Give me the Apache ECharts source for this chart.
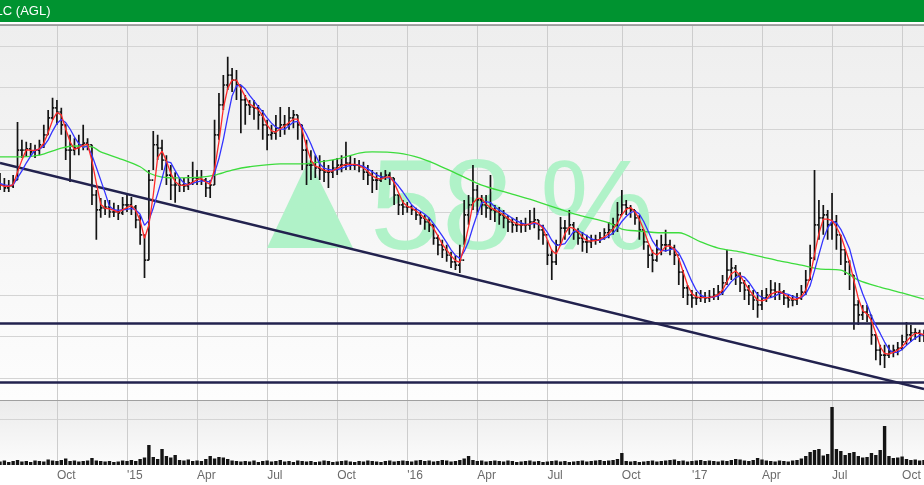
<!DOCTYPE html>
<html><head><meta charset="utf-8">
<script src="https://cdn.jsdelivr.net/npm/echarts/dist/echarts.min.js"></script>
<style>html,body{margin:0;padding:0;background:#fff}#c{width:924px;height:485px}</style>
</head><body><div id="c"></div>
<script>
// first 5 points are warm-up points for the moving averages (left of the visible window)
const PRE = 5;
const tickIndex = [13, 29, 45, 61, 77, 93, 109, 125, 142, 158, 174, 190, 206];
const tickLabels = ['Oct', "'15", 'Apr', 'Jul', 'Oct', "'16", 'Apr', 'Jul', 'Oct', "'17", 'Apr', 'Jul', 'Oct'];

const highVals = [
  79.6, 79.2, 78.7, 78.2, 77.7,
  79.4, 78.2, 77.7, 78.9, 91.7, 87.4, 86.9, 86.6, 86.2, 87.4,
  91.0, 94.6, 97.5, 97.0, 95.1, 91.0, 88.6, 87.8, 88.6, 91.0,
  87.8, 86.2, 75.3, 73.4, 72.9, 72.9, 72.2, 71.7, 73.6, 74.1,
  73.6, 71.7, 69.3, 64.5, 80.1, 89.5, 88.6, 87.4, 83.7, 81.3,
  79.6, 78.2, 78.2, 78.9, 82.1, 80.1, 80.1, 78.2, 77.7, 92.2,
  98.7, 103.0, 107.4, 104.7, 104.2, 100.6, 98.2, 97.0, 97.0, 95.8,
  94.6, 92.2, 91.0, 93.4, 95.3, 93.4, 95.3, 94.6, 93.4, 91.0,
  87.4, 84.9, 83.7, 83.7, 82.5, 81.3, 82.5, 83.0, 83.7, 86.9,
  83.7, 83.0, 82.5, 82.1, 81.3, 80.1, 79.6, 79.6, 80.1, 79.6,
  78.2, 74.1, 72.9, 72.4, 71.7, 71.0, 70.0, 69.3, 68.6, 66.9,
  64.5, 63.3, 62.1, 60.4, 59.6, 62.1, 72.9, 74.1, 81.3, 76.5,
  74.1, 74.1, 78.9, 71.7, 71.2, 70.5, 69.3, 68.6, 68.8, 68.1,
  68.6, 70.5, 71.0, 68.1, 66.9, 63.3, 60.9, 63.3, 68.8, 68.1,
  70.5, 67.6, 66.1, 65.2, 64.5, 64.5, 64.5, 65.2, 66.1, 67.6,
  68.6, 72.4, 75.3, 72.9, 71.7, 70.5, 69.3, 65.7, 62.1, 60.9,
  63.3, 64.5, 65.7, 63.3, 62.1, 58.9, 56.0, 52.4, 51.2, 50.7,
  51.2, 50.7, 51.2, 51.7, 52.4, 54.8, 60.9, 58.9, 57.2, 55.5,
  53.6, 52.4, 51.2, 50.7, 51.2, 51.7, 53.6, 53.1, 52.9, 51.2,
  50.0, 50.0, 50.5, 52.4, 56.0, 62.1, 80.1, 72.9, 71.7, 70.5,
  74.6, 69.3, 64.5, 60.9, 58.4, 54.8, 48.8, 47.6, 47.6, 45.2,
  40.4, 38.0, 38.0, 38.0, 38.0, 38.7, 40.4, 43.5, 42.8, 42.0,
  41.6, 41.6
];
const lowVals = [
  76.8, 76.3, 75.8, 75.3, 74.8,
  75.3, 74.8, 74.8, 75.8, 77.7, 83.0, 83.3, 83.3, 83.0, 83.7,
  85.4, 88.6, 92.2, 91.0, 88.6, 82.5, 77.2, 83.7, 83.7, 84.9,
  84.9, 71.7, 63.3, 68.6, 69.3, 68.6, 68.8, 68.1, 69.3, 70.0,
  69.3, 66.1, 62.1, 54.1, 58.4, 80.1, 82.5, 80.1, 76.5, 72.9,
  72.2, 74.8, 74.8, 75.3, 76.5, 76.5, 76.5, 73.6, 73.4, 76.5,
  87.4, 94.6, 99.4, 98.9, 97.0, 89.0, 91.0, 93.4, 92.2, 89.8,
  87.4, 84.9, 87.4, 87.4, 88.1, 88.6, 89.8, 90.2, 87.4, 80.1,
  76.5, 77.7, 78.2, 77.7, 77.2, 75.8, 78.2, 78.9, 79.6, 80.1,
  80.1, 80.1, 79.6, 77.7, 76.5, 74.6, 75.3, 77.2, 77.7, 76.5,
  71.7, 69.3, 69.3, 69.8, 69.3, 68.1, 66.9, 65.7, 65.2, 62.1,
  59.6, 58.9, 58.0, 56.5, 56.0, 55.3, 62.1, 66.9, 70.5, 69.3,
  69.3, 68.6, 68.1, 67.6, 66.9, 66.1, 65.2, 65.0, 65.2, 65.0,
  65.2, 65.7, 66.1, 63.3, 62.1, 57.2, 53.6, 57.2, 62.1, 63.3,
  64.5, 63.3, 62.1, 60.4, 60.1, 61.3, 62.1, 62.5, 63.3, 63.7,
  64.5, 65.2, 69.3, 69.3, 68.6, 66.9, 63.3, 60.9, 56.5, 55.5,
  58.0, 59.6, 60.4, 59.6, 57.2, 52.4, 49.3, 47.6, 46.9, 47.6,
  48.3, 48.1, 48.3, 48.8, 48.8, 50.0, 52.4, 53.6, 52.4, 50.7,
  48.8, 47.6, 46.4, 44.5, 46.4, 48.3, 49.3, 48.8, 48.8, 47.6,
  46.9, 47.3, 47.6, 48.8, 50.0, 53.6, 58.4, 63.3, 64.5, 63.3,
  63.3, 60.9, 57.2, 54.8, 51.2, 41.6, 42.8, 44.0, 43.5, 38.0,
  34.3, 33.1, 32.4, 34.8, 35.0, 35.5, 36.7, 38.0, 38.7, 39.2,
  38.7, 38.7
];
const closeVals = [
  78.2, 77.7, 77.2, 76.8, 76.3,
  76.5, 75.8, 76.3, 77.7, 84.9, 84.9, 85.2, 84.5, 84.9, 86.2,
  88.6, 92.7, 95.1, 94.1, 91.0, 84.9, 84.9, 85.4, 86.2, 86.6,
  86.2, 74.1, 70.5, 71.0, 71.2, 70.0, 70.0, 69.8, 71.7, 71.7,
  71.2, 68.1, 64.5, 58.4, 77.7, 86.2, 85.4, 82.5, 78.9, 76.5,
  76.5, 76.5, 76.3, 77.0, 78.2, 78.2, 77.7, 75.8, 76.5, 88.6,
  95.8, 100.6, 103.0, 101.8, 100.6, 97.0, 95.8, 95.3, 95.1, 93.4,
  91.0, 88.6, 89.0, 90.2, 91.0, 91.0, 92.7, 93.4, 91.0, 84.9,
  81.3, 81.3, 80.6, 80.1, 79.6, 79.6, 80.6, 81.3, 81.3, 81.8,
  81.3, 81.3, 80.9, 79.6, 78.9, 77.7, 77.7, 78.4, 78.9, 78.2,
  74.1, 71.7, 71.2, 71.2, 70.5, 69.3, 68.6, 67.6, 66.9, 63.7,
  62.1, 60.9, 59.6, 58.0, 57.2, 58.4, 69.3, 71.7, 75.3, 72.9,
  71.7, 71.0, 70.5, 70.0, 69.3, 68.6, 67.6, 66.9, 66.9, 66.9,
  66.9, 67.6, 68.1, 65.7, 64.5, 59.6, 58.0, 62.1, 66.1, 66.1,
  66.9, 65.2, 63.7, 62.8, 62.8, 63.3, 63.3, 63.7, 65.0, 65.7,
  66.9, 69.3, 71.7, 71.0, 70.5, 68.6, 65.7, 62.8, 59.6, 58.4,
  60.9, 62.1, 62.1, 61.3, 59.6, 55.5, 51.7, 50.0, 49.3, 49.3,
  49.5, 49.3, 49.5, 50.0, 50.7, 52.9, 56.0, 56.5, 54.8, 52.9,
  51.2, 50.0, 48.8, 47.6, 49.3, 50.0, 51.2, 50.7, 50.7, 49.3,
  48.8, 48.8, 49.3, 50.7, 53.6, 58.9, 66.9, 68.6, 69.3, 66.9,
  67.6, 64.5, 60.9, 58.0, 54.8, 47.6, 45.2, 45.9, 45.2, 40.4,
  36.7, 35.5, 35.5, 36.3, 36.7, 37.2, 38.7, 40.4, 40.9, 40.9,
  40.4, 40.1
];
const volumeVals = [
  0.8, 0.7, 0.9, 0.8, 0.7,
  0.7, 0.9, 0.6, 0.8, 1.0, 0.7, 0.8, 0.6, 0.9, 0.8,
  0.7, 1.1, 0.9, 0.8, 1.0, 1.3, 0.8, 0.9, 0.7, 0.8,
  0.9, 1.4, 0.9, 0.8, 0.7, 0.8, 0.6, 0.7, 0.9, 0.8,
  1.0, 0.8, 1.2, 1.5, 4.0, 1.6, 1.2, 3.2, 1.8, 1.5,
  2.0, 1.0, 0.9, 1.1, 0.8, 0.9, 0.8, 1.2, 1.8, 1.3,
  1.6, 1.5, 1.2, 0.9, 0.8, 0.7, 0.8, 0.7, 0.9, 0.6,
  0.8, 0.9, 0.7, 0.8, 1.0, 0.7, 0.8, 0.6, 0.9, 0.8,
  0.7, 0.8, 0.6, 0.7, 0.9, 0.8, 0.6, 0.7, 0.8, 0.9,
  0.7, 0.6, 0.8, 0.7, 0.9, 0.8, 0.7, 0.6, 0.8, 0.9,
  0.7, 0.8, 0.9, 0.8, 0.7, 0.9, 1.0, 0.8, 0.9, 0.7,
  0.8, 1.0, 0.9, 0.7, 0.8, 1.0, 1.3, 1.8, 1.0, 0.8,
  0.9, 0.7, 0.8, 0.9, 0.8, 0.7, 0.9, 0.8, 0.6, 0.7,
  0.8, 0.9, 0.7, 0.8, 0.6, 0.7, 0.8, 0.9, 0.7, 0.8,
  0.6, 0.7, 0.8, 0.9, 0.7, 0.8, 0.9, 1.0, 0.8, 0.9,
  1.0, 1.2, 2.4, 0.8, 0.7, 0.8, 0.6, 0.7, 0.8, 0.9,
  0.7, 0.8, 0.9, 1.0, 1.1, 0.8, 0.9, 0.7, 0.8, 0.9,
  1.0, 0.8, 0.9, 0.8, 0.7, 0.9, 0.8, 1.0, 1.2, 1.1,
  0.9, 0.8, 1.0, 1.4, 1.1, 0.9, 0.8, 0.7, 0.9, 0.8,
  0.7, 0.9, 1.0, 1.3, 1.8, 2.6, 3.0, 3.2, 1.9, 2.2,
  11.6, 3.2, 2.8, 2.0, 2.4, 2.6, 1.8, 1.5, 1.6, 2.4,
  2.0, 3.0, 7.8, 1.8, 1.4, 1.5, 1.7, 1.2, 1.0, 1.1,
  0.9, 1.0
];
// 200-day average, read at [visible index, value]
const ma200 = [
  [0, 83.3], [5, 83.3], [9, 83.7], [14, 85.4], [17, 85.9], [21, 85.7], [23, 84.5], [27, 83.0],
  [32, 80.9], [34, 79.4], [37, 78.4], [41, 78.2], [46, 78.4], [49, 78.9], [53, 80.1], [57, 80.9],
  [64, 81.6], [69, 81.6], [73, 82.1], [78, 83.0], [82, 84.2], [85, 84.5], [91, 84.2], [96, 83.0],
  [100, 81.3], [105, 78.9], [110, 76.5], [116, 74.6], [123, 72.4], [132, 69.3], [139, 67.4],
  [142, 65.9], [146, 65.4], [151, 65.0], [155, 65.0], [160, 62.8], [164, 61.3], [169, 60.4],
  [174, 59.2], [178, 58.2], [183, 57.2], [187, 56.3], [192, 56.0], [196, 53.6], [201, 51.9],
  [206, 50.5], [211, 49.0]
];
const supportLevels = [43.25, 29.04];
const trendLine = [[0, 81.8], [211, 27.35]];

const categories = closeVals.map((_, i) => String(i));
const tickSet = new Set(tickIndex.map(t => t + PRE));
const labelMap = {};
tickIndex.forEach((t, k) => { labelMap[t + PRE] = tickLabels[k]; });

function movingAverage(src, n) {
  return src.map((_, i) => {
    if (i < n - 1) return null;
    let s = 0;
    for (let k = i - n + 1; k <= i; k++) s += src[k];
    return +(s / n).toFixed(2);
  });
}
const ohlc = closeVals.map((c, i) => [i, i > 0 ? closeVals[i - 1] : c, c, lowVals[i], highVals[i]]);

const chart = echarts.init(document.getElementById('c'), null, { renderer: 'canvas' });
const FONT = '"Liberation Sans", Arial, sans-serif';
const WM = '#b0f2c8';
const option = {
  animation: false,
  grid: [
    { left: 0, right: 0, top: 25, height: 394.5 },
    { left: 0, right: 0, top: 400, height: 65 }
  ],
  xAxis: [
    {
      type: 'category', gridIndex: 0, data: categories, boundaryGap: false,
      min: PRE, max: PRE + 211,
      axisLine: { show: false }, axisTick: { show: false }, axisLabel: { show: false },
      splitLine: { show: true, interval: (i) => tickSet.has(i), lineStyle: { color: '#cdcdcd', width: 1 } }
    },
    {
      type: 'category', gridIndex: 1, data: categories, boundaryGap: false,
      min: PRE, max: PRE + 211,
      axisLine: { show: false }, axisTick: { show: false },
      axisLabel: {
        show: true, interval: (i) => tickSet.has(i), formatter: (v) => labelMap[+v] || '',
        align: 'left', margin: 5, color: '#6b6b6b', fontSize: 12, fontFamily: FONT
      },
      splitLine: { show: true, interval: (i) => tickSet.has(i), lineStyle: { color: '#cdcdcd', width: 1 } }
    }
  ],
  yAxis: [
    {
      type: 'value', gridIndex: 0, min: 20, max: 115.06, interval: 10,
      axisLine: { show: false }, axisTick: { show: false }, axisLabel: { show: false },
      splitLine: { show: true, lineStyle: { color: '#d4d4d4', width: 1 } }
    },
    {
      type: 'value', gridIndex: 1, min: 0, max: 13,
      axisLine: { show: false }, axisTick: { show: false }, axisLabel: { show: false },
      splitLine: { show: false }
    }
  ],
  graphic: [
    { type: 'rect', z: -10, shape: { x: 0, y: 25, width: 924, height: 375 },
      style: { fill: { type: 'linear', x: 0, y: 0, x2: 0, y2: 1, colorStops: [{ offset: 0, color: '#eeeeee' }, { offset: 1, color: '#fdfdfd' }] } } },
    { type: 'rect', z: -10, shape: { x: 0, y: 400, width: 924, height: 65 },
      style: { fill: { type: 'linear', x: 0, y: 0, x2: 0, y2: 1, colorStops: [{ offset: 0, color: '#ebebeb' }, { offset: 1, color: '#fcfcfc' }] } } },
    { type: 'rect', z: 10, shape: { x: 0, y: 0, width: 924, height: 22 }, style: { fill: '#009330' } },
    { type: 'text', z: 11, x: 50.5, y: 11.5, style: { text: 'ANGLE PLC (AGL)', fill: '#ffffff', font: '13px ' + FONT, textAlign: 'right', textVerticalAlign: 'middle' } },
    { type: 'line', z: 10, shape: { x1: 0, y1: 25, x2: 924, y2: 25 }, style: { stroke: '#8a8a8a', lineWidth: 1.5 } },
    { type: 'line', z: 10, shape: { x1: 0, y1: 400.5, x2: 924, y2: 400.5 }, style: { stroke: '#a0a0a0', lineWidth: 1 } },
    { type: 'polygon', z: 1, shape: { points: [[267, 248], [353, 248], [309, 159]] }, style: { fill: WM } },
    { type: 'text', z: 1, x: 370, y: 214, style: { text: '5', fill: WM, font: '128px ' + FONT, textAlign: 'left', textVerticalAlign: 'middle' } },
    { type: 'text', z: 1, x: 442, y: 214, style: { text: '8', fill: WM, font: '128px ' + FONT, textAlign: 'left', textVerticalAlign: 'middle' } },
    { type: 'text', z: 1, x: 540, y: 214, style: { text: '%', fill: WM, font: '128px ' + FONT, textAlign: 'left', textVerticalAlign: 'middle' } }
  ],
  series: [
    {
      type: 'custom', name: 'price', xAxisIndex: 0, yAxisIndex: 0, z: 3, clip: true,
      data: ohlc, encode: { x: 0, y: [1, 2, 3, 4] },
      renderItem: (params, api) => {
        const x = api.value(0);
        const o = api.coord([x, api.value(1)]);
        const c = api.coord([x, api.value(2)]);
        const l = api.coord([x, api.value(3)]);
        const h = api.coord([x, api.value(4)]);
        const st = { stroke: '#141414', lineWidth: 1.7 };
        return { type: 'group', children: [
          { type: 'line', shape: { x1: h[0], y1: h[1], x2: l[0], y2: l[1] }, style: st },
          { type: 'line', shape: { x1: o[0] - 1.8, y1: o[1], x2: o[0], y2: o[1] }, style: st },
          { type: 'line', shape: { x1: c[0], y1: c[1], x2: c[0] + 1.8, y2: c[1] }, style: st }
        ] };
      }
    },
    {
      type: 'line', name: 'ma200', xAxisIndex: 0, yAxisIndex: 0, z: 4, smooth: 0.3,
      data: ma200.map(p => [p[0] + PRE, p[1]]), showSymbol: false,
      lineStyle: { color: '#3ddc3d', width: 1.3 },
      markLine: {
        silent: true, symbol: ['none', 'none'], label: { show: false },
        lineStyle: { color: '#22224e', width: 2.5, type: 'solid' },
        data: [
          { yAxis: supportLevels[0] },
          { yAxis: supportLevels[1] },
          [{ coord: [trendLine[0][0] + PRE, trendLine[0][1]] }, { coord: [trendLine[1][0] + PRE, trendLine[1][1]] }]
        ]
      }
    },
    {
      type: 'line', name: 'ma20', xAxisIndex: 0, yAxisIndex: 0, z: 5,
      data: movingAverage(closeVals, 5), showSymbol: false,
      lineStyle: { color: '#3333ff', width: 1.3 }
    },
    {
      type: 'line', name: 'ma10', xAxisIndex: 0, yAxisIndex: 0, z: 6,
      data: movingAverage(closeVals, 3), showSymbol: false,
      lineStyle: { color: '#ff2a2a', width: 1.3 }
    },
    {
      type: 'bar', name: 'volume', xAxisIndex: 1, yAxisIndex: 1,
      data: volumeVals, barWidth: 3.4, itemStyle: { color: '#141414' }
    }
  ]
};
chart.setOption(option);
</script></body></html>
